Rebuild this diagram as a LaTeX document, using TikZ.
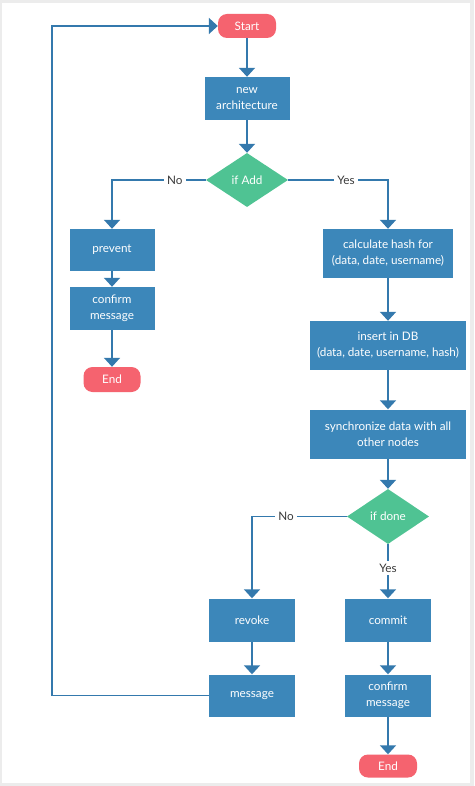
\documentclass[tikz,border=0pt]{standalone}
\usepackage{fontspec}
\setmainfont{Lato}
\usetikzlibrary{shapes.geometric,arrows.meta}
\definecolor{boxblue}{HTML}{3C87BA}
\definecolor{lineblue}{HTML}{3479AD}
\definecolor{diagreen}{HTML}{4FC393}
\definecolor{termred}{HTML}{F5636F}
\definecolor{labgray}{HTML}{3A3A3A}
\definecolor{framegray}{HTML}{ECECEC}
\tikzset{
  stepbox/.style={rectangle, fill=boxblue, text=white, inner sep=0pt, align=center,
    font=\fontsize{11.7}{16}\selectfont},
  term/.style={rectangle, rounded corners=9pt, fill=termred, text=white, inner sep=0pt,
    minimum width=58pt, minimum height=24pt, font=\fontsize{11.7}{16}\selectfont},
  decide/.style={diamond, fill=diagreen, text=white, inner sep=0pt, aspect=1.52,
    font=\fontsize{11.7}{16}\selectfont},
  conn/.style={draw=lineblue, line width=1.8pt, -{Triangle[width=16pt,length=9pt]}},
  lab/.style={fill=white, text=labgray, inner sep=3pt, font=\fontsize{11.7}{13}\selectfont}
}
\begin{document}
\begin{tikzpicture}[x=1pt,y=-1pt]
\fill[framegray] (0,0) rectangle (474,786);
\fill[white] (2,3) rectangle (470,783);
\useasboundingbox (0,0) rectangle (474,786);

\node[term] (start) at (247,26) {Start};
\node[stepbox, minimum width=85pt, minimum height=43pt] (arch) at (247,98.5) {new\\architecture};
\node[decide, minimum width=82pt, minimum height=54pt] (ifadd) at (247,180) {if Add};
\node[stepbox, minimum width=85pt, minimum height=42pt] (prevent) at (112,250) {prevent};
\node[stepbox, minimum width=85pt, minimum height=43pt] (conf1) at (112,308.5) {confirm\\message};
\node[term, minimum width=57pt, minimum height=25pt] (end1) at (112,379.5) {End};
\node[stepbox, minimum width=130pt, minimum height=49pt] (calc) at (388,253.5) {calculate hash for\\(data, date, username)};
\node[stepbox, minimum width=156pt, minimum height=49pt] (insert) at (388,345.5) {insert in DB\\(data, date, username, hash)};
\node[stepbox, minimum width=156pt, minimum height=49pt] (sync) at (388,434) {synchronize data with all\\other nodes};
\node[decide, minimum width=82pt, minimum height=55pt] (ifdone) at (388,516.5) {if done};
\node[stepbox, minimum width=86pt, minimum height=43pt] (revoke) at (252,620) {revoke};
\node[stepbox, minimum width=86pt, minimum height=43pt] (commit) at (388,620) {commit};
\node[stepbox, minimum width=86pt, minimum height=42pt] (message) at (252,695.5) {message};
\node[stepbox, minimum width=86pt, minimum height=42pt] (conf2) at (388,695.5) {confirm\\message};
\node[term, minimum width=58pt, minimum height=23pt] (end2) at (388,766) {End};
\coordinate (loopcorner) at (52,695.5);

\draw[conn] (start) -- (arch);
\draw[conn] (arch) -- (ifadd);
\draw[conn] (ifadd.west) -| node[lab, pos=0.165] (noA) {No} (prevent.north);
\draw[conn] (ifadd.east) -| node[lab, pos=0.29] (yesA) {Yes} (calc.north);
\draw[conn] (prevent) -- (conf1);
\draw[conn] (conf1) -- (end1);
\draw[conn] (calc) -- (insert);
\draw[conn] (insert) -- (sync);
\draw[conn] (sync) -- (ifdone);
\draw[conn] (ifdone.west) -| node[lab, pos=0.32] (noB) {No} (revoke.north);
\draw[conn] (ifdone.south) -- node[lab, pos=0.44] (yesB) {Yes} (commit.north);
\draw[conn] (revoke) -- (message);
\draw[conn] (commit) -- (conf2);
\draw[conn] (conf2) -- (end2);
\draw[conn] (message.west) -- (loopcorner) |- (start.west);
\end{tikzpicture}
\end{document}
